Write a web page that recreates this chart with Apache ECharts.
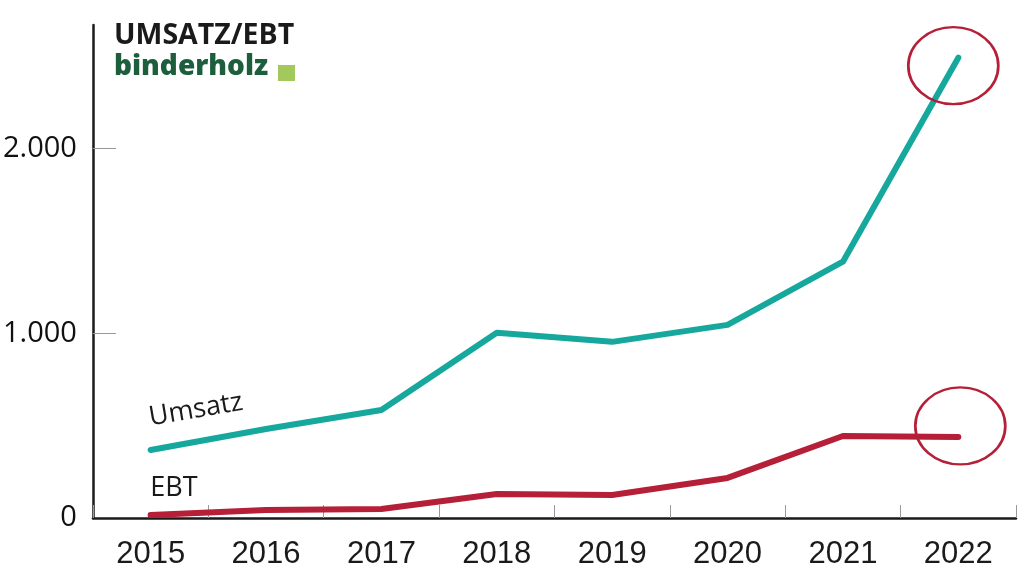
<!DOCTYPE html>
<html>
<head>
<meta charset="utf-8">
<script src="https://cdn.jsdelivr.net/npm/echarts@6/dist/echarts.min.js"></script>
<style>
  html, body { margin: 0; padding: 0; background: #fff; }
  #box { width: 1025px; height: 577px; }
</style>
</head>
<body>
<div id="box"></div>
<script>
// Jahre (Kategorien)
let years = ['2015', '2016', '2017', '2018', '2019', '2020', '2021', '2022'];
// Umsatz in Mio. EUR
let umsatz = [368, 482, 585, 1003, 954, 1046, 1388, 2493];
// EBT in Mio. EUR
let ebt = [16, 43, 49, 130, 125, 217, 444, 439];
// Beschriftete Werte der y-Achse
let yLabels = [0, 1000, 2000];
let yTicks = [1000, 2000];

let teal = '#17a89d';
let red = '#b51f38';
let last = years.length - 1;

let chart = echarts.init(document.getElementById('box'));

// roter Kreis um den letzten Wert
function ring(offset) {
    return {
        symbol: 'circle',
        symbolSize: [90, 77],
        symbolOffset: offset,
        silent: true,
        itemStyle: {
            color: 'rgba(0,0,0,0)',
            borderColor: red,
            borderWidth: 2.5
        },
        label: { show: false }
    };
}

let option = {
    backgroundColor: '#fff',
    animation: false,
    grid: { left: 92, right: 9, top: 25, bottom: 59 },
    xAxis: {
        type: 'category',
        data: years,
        boundaryGap: true,
        axisLine: { show: true, lineStyle: { color: '#1a1a1a', width: 2.5 } },
        axisTick: { show: true, inside: true, length: 13, lineStyle: { color: '#999', width: 1 } },
        axisLabel: {
            margin: 21,
            color: '#1a1a1a',
            fontSize: 31,
            fontFamily: '"Liberation Sans", sans-serif'
        },
        splitLine: { show: false }
    },
    yAxis: {
        type: 'value',
        min: 0,
        max: 2670,
        interval: 1000,
        axisLine: { show: true, lineStyle: { color: '#1a1a1a', width: 2.5 } },
        axisTick: {
            show: true, inside: true, length: 23,
            customValues: yTicks,
            lineStyle: { color: '#999', width: 1 }
        },
        axisLabel: {
            customValues: yLabels,
            margin: 16,
            color: '#111',
            fontSize: 29,
            fontFamily: '"Open Sans", sans-serif',
            formatter: function (v) {
                return String(v).replace(/\B(?=(\d{3})+(?!\d))/g, '.');
            }
        },
        splitLine: { show: false }
    },
    graphic: [
        {
            type: 'text', left: 114, top: 21,
            style: { text: 'UMSATZ/EBT', fill: '#1a1a1a', font: 'bold 28.5px "Open Sans", sans-serif' }
        },
        {
            type: 'text', left: 114, top: 53,
            style: { text: 'binderholz', fill: '#1d5e3d', font: '800 28px "Open Sans", sans-serif' }
        },
        {
            type: 'rect', shape: { x: 278, y: 65, width: 17, height: 16 },
            style: { fill: '#a3c95c' }
        },
        {
            type: 'text', x: 196, y: 410, rotation: 0.17,
            style: {
                text: 'Umsatz', fill: '#1a1a1a', font: '27px "Open Sans", sans-serif',
                textAlign: 'center', textVerticalAlign: 'middle'
            }
        },
        {
            type: 'text', x: 174, y: 488,
            style: {
                text: 'EBT', fill: '#1a1a1a', font: '27px "Open Sans", sans-serif',
                textAlign: 'center', textVerticalAlign: 'middle'
            }
        }
    ],
    series: [
        {
            name: 'EBT',
            type: 'line',
            data: ebt,
            symbol: 'none',
            z: 2,
            lineStyle: { color: red, width: 6, cap: 'round', join: 'round' },
            markPoint: Object.assign(ring([2, -11]), {
                data: [{ coord: [years[last], ebt[last]] }]
            })
        },
        {
            name: 'Umsatz',
            type: 'line',
            data: umsatz,
            symbol: 'none',
            z: 3,
            lineStyle: { color: teal, width: 6, cap: 'round', join: 'round' },
            markPoint: Object.assign(ring([-5, 8]), {
                data: [{ coord: [years[last], umsatz[last]] }]
            })
        }
    ]
};

chart.setOption(option);
</script>
</body>
</html>
